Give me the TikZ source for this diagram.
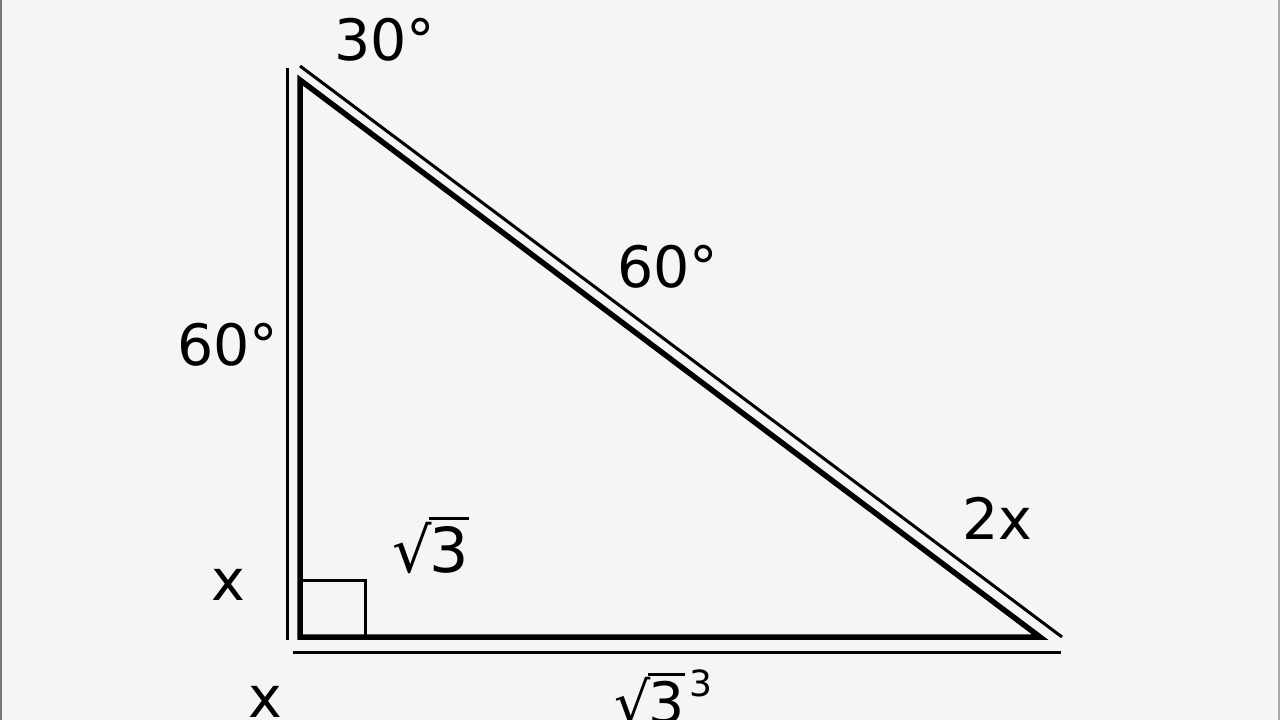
\documentclass[tikz,border=0pt]{standalone}
\usepackage{fontspec}
\setmainfont{DejaVu Sans}
\newcommand\barroot[2]{√\kern-0.04em\vbox{\hrule height #2\kern 0.09em\hbox{#1}}}
\begin{document}
\begin{tikzpicture}[x=1pt,y=-1pt,
  lbl/.style={inner sep=0pt, font=\fontsize{57}{60}\selectfont, text=black},
  thick line/.style={line width=5.5pt, line join=miter},
  thin line/.style={line width=3pt}]
\useasboundingbox (0,0) rectangle (1280,720);
\clip (0,0) rectangle (1280,720);
\fill[fill={rgb,255:red,245;green,245;blue,245}] (0,0) rectangle (1280,720);
\draw[line width=2.5pt, draw={rgb,255:red,120;green,120;blue,120}] (1,0) -- (1,720);
\draw[line width=2pt, draw={rgb,255:red,170;green,170;blue,170}] (1279,0) -- (1279,720);
% main triangle
\coordinate (A) at (300,80);
\coordinate (B) at (300,637);
\coordinate (C) at (1040,637);
\draw[thick line] (A) -- (B) -- (C) -- cycle;
% right angle mark
\coordinate (S1) at (300,580);
\coordinate (S2) at (365,580);
\coordinate (S3) at (365,637);
\draw[line width=3pt] (S1) -- (S2) -- (S3);
% outer lines
\coordinate (L1) at (287,68);
\coordinate (L2) at (287,640);
\coordinate (M1) at (293,652);
\coordinate (M2) at (1061,652);
\coordinate (H1) at (300,66);
\coordinate (H2) at (1062,637);
\draw[thin line] (L1) -- (L2);
\draw[thin line] (M1) -- (M2);
\draw[thin line] (H1) -- (H2);
% labels
\node[lbl] (t30) at (385,40) {30°};
\node[lbl] (t60a) at (228,345) {60°};
\node[lbl] (t60b) at (668,267) {60°};
\node[lbl] (t2x) at (997,518) {2x};
\node[lbl] (tx1) at (228,585) {x};
\node[lbl] (tx2) at (265,702) {x};
\node[lbl, anchor=base west, font=\fontsize{62}{64}\selectfont] (tr3) at (392,572) {\barroot{3}{3pt}};
\node[lbl, anchor=base west] (tb) at (614,723) {\barroot{3}{3pt}\kern5pt\raisebox{27pt}{\fontsize{36}{36}\selectfont 3}};
\end{tikzpicture}
\end{document}
